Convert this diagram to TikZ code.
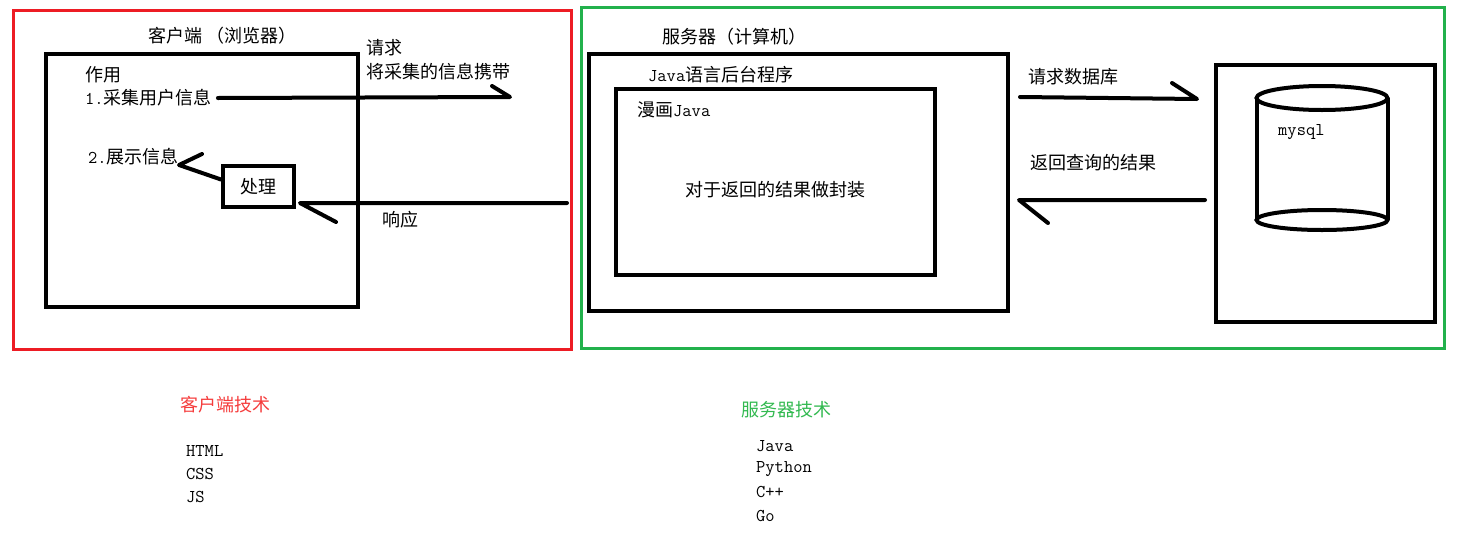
\documentclass[tikz,border=0pt]{standalone}
\usepackage{fontspec}
\setmainfont{Latin Modern Mono}
\newfontfamily\cjk{Noto Sans CJK SC}
\definecolor{boxred}{RGB}{237,28,36}
\definecolor{boxgreen}{RGB}{34,177,76}
\definecolor{txtred}{RGB}{245,60,60}
\definecolor{txtgreen}{RGB}{50,185,80}
\begin{document}
\begin{tikzpicture}[x=1pt,y=-1pt,
  frame/.style={line width=3pt,inner sep=0pt,anchor=north west},
  blk/.style={draw=black,line width=4pt,inner sep=0pt,anchor=north west},
  lbl/.style={anchor=west,inner sep=0pt,font=\fontsize{18}{21}\selectfont},
  conn/.style={line width=4pt,line cap=round,line join=round}]
\useasboundingbox (0,0) rectangle (1457,544);

% frames
\node[frame,draw=boxred,minimum width=558pt,minimum height=339pt] (clientframe) at (12,9) {};
\node[frame,draw=boxgreen,minimum width=863pt,minimum height=341pt] (serverframe) at (580,6) {};

% client side
\node[blk,minimum width=312pt,minimum height=253pt] (clientbox) at (44,52) {};
\node[lbl] (clienttitle) at (148,36) {\cjk 客户端 （浏览器）};
\node[lbl] (role) at (85,75) {\cjk 作用};
\node[lbl] (info1) at (85,98) {1.{\cjk 采集用户信息}};
\node[lbl] (info2) at (88,157) {2.{\cjk 展示信息}};
\node[lbl] (req1) at (366,48) {\cjk 请求};
\node[lbl] (req2) at (366,72) {\cjk 将采集的信息携带};
\node[blk,minimum width=71pt,minimum height=41pt,font=\fontsize{18}{21}\selectfont] (proc) at (221,164) {\cjk 处理};
\node[lbl] (resp) at (382,220) {\cjk 响应};

% server side
\node[lbl] (servertitle) at (662,37) {\cjk 服务器（计算机）};
\node[blk,minimum width=419pt,minimum height=257pt] (serverbox) at (587,52) {};
\node[lbl] (javalbl) at (648,75) {Java{\cjk 语言后台程序}};
\node[blk,minimum width=319pt,minimum height=186pt] (comicbox) at (614,87) {};
\node[lbl] (comiclbl) at (637,110) {{\cjk 漫画}Java};
\node[lbl,anchor=center] (wrap) at (775,190) {\cjk 对于返回的结果做封装};
\node[lbl] (dbreq) at (1028,77) {\cjk 请求数据库};
\node[lbl] (dbret) at (1030,163) {\cjk 返回查询的结果};

% database
\node[blk,minimum width=219pt,minimum height=257pt] (dbbox) at (1214,63) {};
\draw[line width=4pt] (1257,98) -- (1257,220) (1388,98) -- (1388,220);
\draw[line width=4pt,fill=white] (1322,98) ellipse [x radius=65.5pt,y radius=12pt];
\draw[line width=4pt] (1322,220) ellipse [x radius=65.5pt,y radius=10pt];
\node[lbl] (mysql) at (1278,132) {mysql};

% connectors
\coordinate (reqEnd) at (510,97);
\coordinate (reqTick) at (492,86);
\draw[conn] ([xshift=6pt]info1.east) -- (reqEnd) -- (reqTick);

\coordinate (showTip) at (179,165);
\coordinate (showTick) at (202,154);
\draw[conn] ([yshift=7pt]proc.west) -- (showTip) -- (showTick);

\coordinate (respStart) at (567,203);
\coordinate (respTip) at (300,203);
\coordinate (respTick) at (336,222);
\draw[conn] (respStart) -- (respTip) -- (respTick);

\coordinate (dbReqStart) at (1020,97);
\coordinate (dbReqTip) at (1197,99);
\coordinate (dbReqTick) at (1172,83);
\draw[conn] (dbReqStart) -- (dbReqTip) -- (dbReqTick);

\coordinate (dbRetStart) at (1205,200);
\coordinate (dbRetTip) at (1019,200);
\coordinate (dbRetTick) at (1048,223);
\draw[conn] (dbRetStart) -- (dbRetTip) -- (dbRetTick);

% technologies
\node[lbl,text=txtred] (clienttech) at (180,405) {\cjk 客户端技术};
\node[lbl] (html) at (186,451) {HTML};
\node[lbl] (css) at (186,474) {CSS};
\node[lbl] (js) at (186,497) {JS};
\node[lbl,text=txtgreen] (servertech) at (741,410) {\cjk 服务器技术};
\node[lbl] (java) at (756,446) {Java};
\node[lbl] (python) at (756,469) {Python};
\node[lbl] (cpp) at (756,492) {C++};
\node[lbl] (go) at (756,516) {Go};
\end{tikzpicture}
\end{document}
